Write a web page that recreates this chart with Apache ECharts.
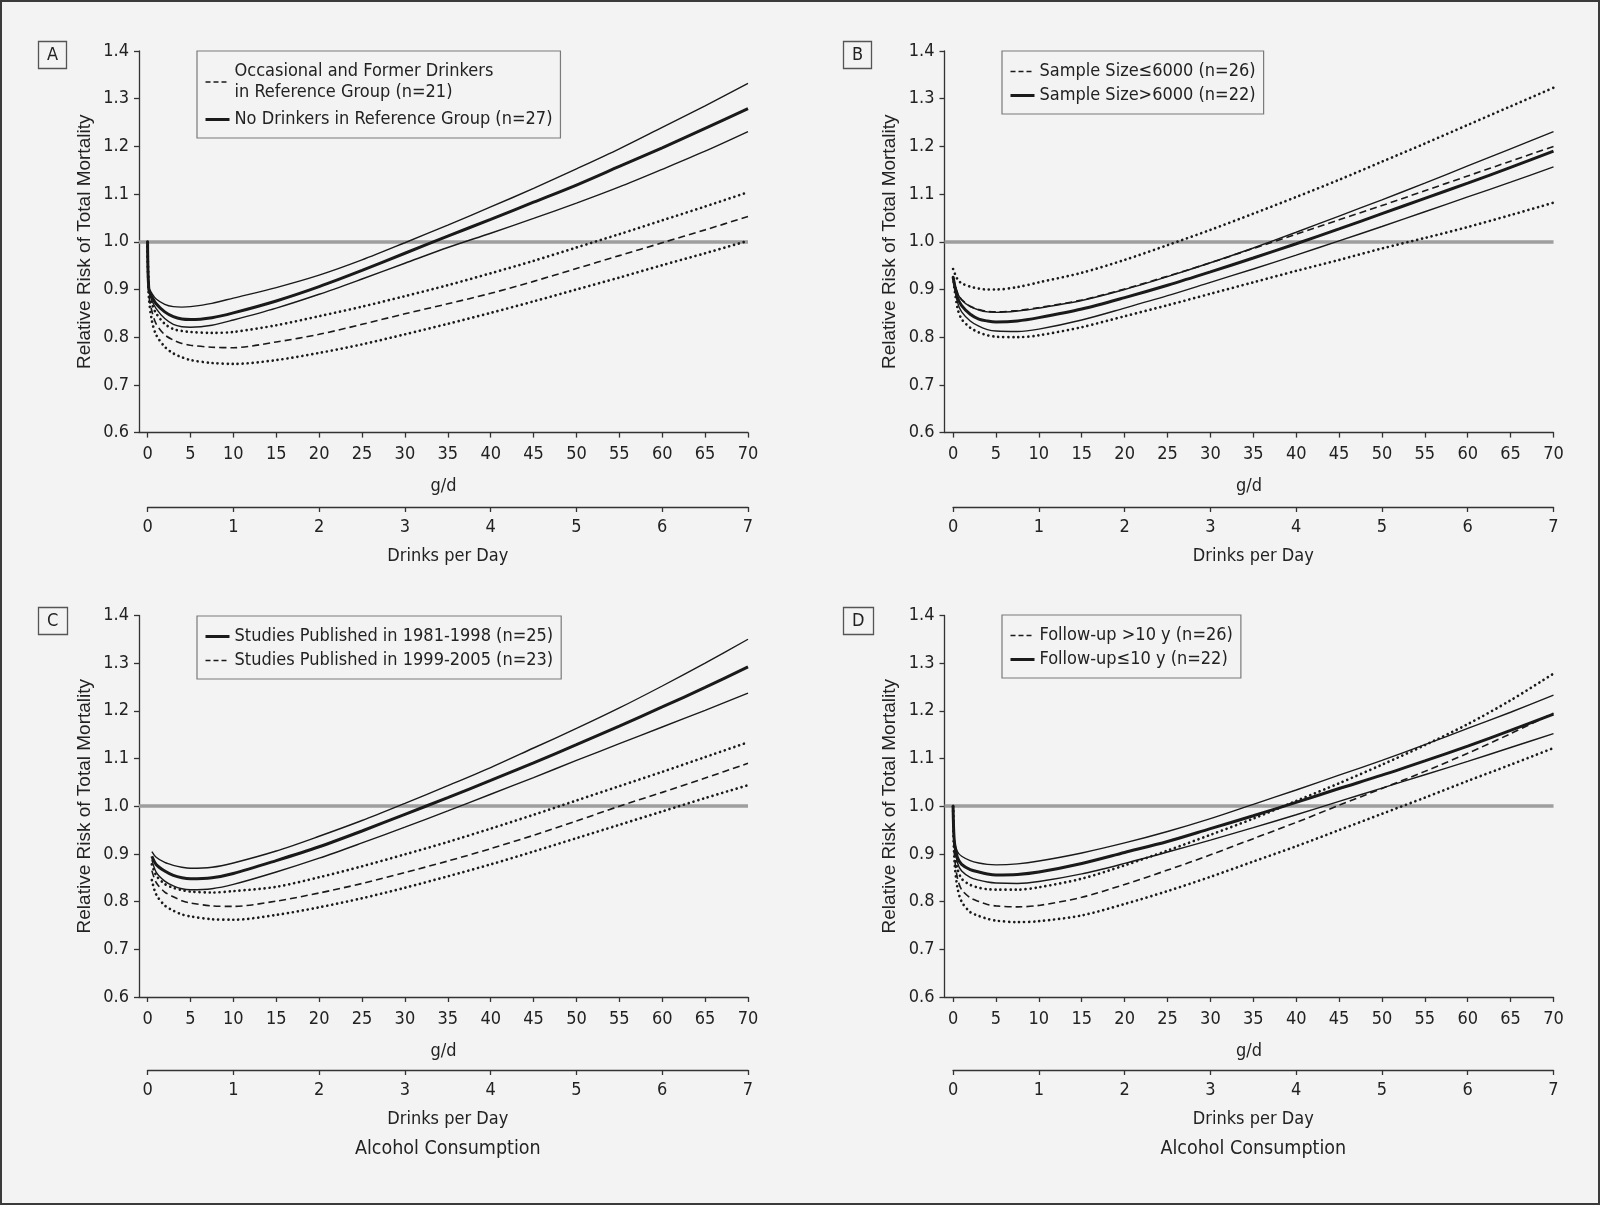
<!DOCTYPE html>
<html>
<head>
<meta charset="utf-8">
<script src="https://cdn.jsdelivr.net/npm/echarts@6/dist/echarts.min.js"></script>
<style>
html,body{margin:0;padding:0;background:#f3f3f3;}
#chart{width:1600px;height:1205px;}
</style>
</head>
<body>
<div id="chart"></div>
<script>
// ---------- DATA ----------
const gdTicks = [0,5,10,15,20,25,30,35,40,45,50,55,60,65,70];
const drinkTicks = [0,1,2,3,4,5,6,7];

const xA = [0,0.15,0.5,1,2,3,4,5,7.5,10,15,20,25,30,35,40,45,50,55,60,65,70];
const xB = [0,0.5,1,2,3,4,5,7.5,10,15,20,25,30,35,40,45,50,55,60,65,70];
const xC = [0.5,1,2,3,4,5,7.5,10,15,20,25,30,35,40,45,50,55,60,65,70];
const xD = [0,0.15,0.5,1,2,3,4,5,7.5,10,15,20,25,30,35,40,45,50,55,60,65,70];

// Panel A
const A_noUpper  = [1.0,0.905,0.892,0.880,0.869,0.864,0.863,0.864,0.871,0.882,0.904,0.930,0.962,0.998,1.035,1.073,1.112,1.153,1.195,1.240,1.285,1.332];
const A_no       = [1.0,0.900,0.885,0.870,0.853,0.843,0.838,0.837,0.841,0.851,0.876,0.906,0.940,0.976,1.012,1.047,1.083,1.119,1.158,1.197,1.238,1.279];
const A_noLower  = [1.0,0.897,0.877,0.860,0.839,0.827,0.822,0.821,0.825,0.836,0.861,0.890,0.922,0.955,0.988,1.018,1.049,1.081,1.115,1.152,1.190,1.231];
const A_occUpper = [1.0,0.895,0.870,0.850,0.828,0.817,0.813,0.811,0.809,0.811,0.825,0.844,0.864,0.886,0.909,0.934,0.960,0.988,1.016,1.045,1.074,1.104];
const A_occ      = [1.0,0.890,0.855,0.828,0.805,0.794,0.787,0.783,0.779,0.778,0.790,0.806,0.827,0.849,0.870,0.892,0.917,0.944,0.971,0.998,1.025,1.053];
const A_occLower = [1.0,0.885,0.835,0.805,0.780,0.766,0.758,0.752,0.746,0.744,0.752,0.767,0.785,0.806,0.828,0.851,0.875,0.900,0.925,0.951,0.976,1.002];

// Panel B
const B_gtUpper = [0.926,0.893,0.878,0.864,0.857,0.853,0.852,0.855,0.861,0.877,0.900,0.927,0.956,0.987,1.020,1.054,1.088,1.123,1.159,1.195,1.231];
const B_gt      = [0.926,0.884,0.866,0.848,0.838,0.834,0.832,0.834,0.841,0.859,0.883,0.909,0.937,0.966,0.996,1.027,1.059,1.091,1.123,1.156,1.190];
const B_gtLower = [0.926,0.874,0.853,0.834,0.823,0.816,0.813,0.812,0.817,0.836,0.861,0.887,0.915,0.943,0.972,1.002,1.032,1.063,1.094,1.125,1.157];
const B_leUpper = [0.943,0.922,0.913,0.906,0.902,0.900,0.900,0.905,0.915,0.935,0.962,0.993,1.025,1.059,1.094,1.130,1.168,1.206,1.245,1.284,1.323];
const B_le      = [0.927,0.894,0.879,0.865,0.858,0.854,0.853,0.856,0.862,0.878,0.901,0.928,0.956,0.986,1.016,1.046,1.076,1.107,1.138,1.169,1.200];
const B_leLower = [0.926,0.862,0.838,0.820,0.810,0.804,0.801,0.800,0.804,0.821,0.844,0.867,0.891,0.915,0.939,0.962,0.986,1.008,1.031,1.056,1.082];

// Panel C
const C_earlyUpper = [0.905,0.893,0.882,0.876,0.872,0.870,0.872,0.881,0.906,0.937,0.970,1.006,1.043,1.081,1.122,1.163,1.206,1.252,1.300,1.350];
const C_early      = [0.895,0.878,0.864,0.855,0.850,0.848,0.850,0.859,0.886,0.915,0.948,0.983,1.018,1.054,1.091,1.129,1.168,1.208,1.249,1.292];
const C_earlyLower = [0.888,0.862,0.843,0.833,0.827,0.825,0.827,0.836,0.862,0.891,0.923,0.956,0.990,1.025,1.060,1.096,1.131,1.166,1.201,1.237];
const C_lateUpper  = [0.878,0.855,0.837,0.829,0.824,0.821,0.819,0.822,0.831,0.851,0.874,0.899,0.925,0.953,0.982,1.012,1.042,1.072,1.103,1.134];
const C_late       = [0.865,0.840,0.820,0.810,0.802,0.797,0.791,0.790,0.801,0.818,0.838,0.861,0.885,0.911,0.939,0.969,1.000,1.029,1.059,1.090];
const C_lateLower  = [0.845,0.815,0.792,0.781,0.773,0.769,0.763,0.762,0.772,0.788,0.807,0.829,0.853,0.878,0.905,0.933,0.961,0.989,1.017,1.044];

// Panel D
const D_leUpper = [1.0,0.930,0.905,0.895,0.886,0.881,0.878,0.877,0.879,0.885,0.902,0.923,0.947,0.974,1.004,1.034,1.065,1.096,1.129,1.163,1.197,1.233];
const D_le      = [1.0,0.925,0.893,0.878,0.867,0.862,0.858,0.856,0.857,0.862,0.880,0.903,0.926,0.953,0.980,1.008,1.037,1.065,1.095,1.126,1.159,1.193];
const D_leLower = [1.0,0.920,0.882,0.864,0.851,0.845,0.841,0.839,0.838,0.842,0.858,0.880,0.904,0.929,0.955,0.982,1.010,1.038,1.066,1.094,1.123,1.152];
const D_gtUpper = [1.0,0.910,0.870,0.848,0.835,0.829,0.826,0.825,0.825,0.830,0.848,0.876,0.907,0.940,0.974,1.011,1.048,1.087,1.128,1.172,1.222,1.278];
const D_gt      = [1.0,0.900,0.850,0.825,0.808,0.800,0.794,0.791,0.789,0.792,0.809,0.836,0.866,0.898,0.932,0.966,1.002,1.037,1.073,1.111,1.152,1.195];
const D_gtLower = [1.0,0.890,0.830,0.800,0.778,0.770,0.764,0.760,0.757,0.759,0.771,0.795,0.822,0.852,0.884,0.916,0.950,0.984,1.018,1.053,1.087,1.122];

// Legend labels
const legA = ['Occasional and Former Drinkers\nin Reference Group (n=21)', 'No Drinkers in Reference Group (n=27)'];
const legB = ['Sample Size\u22646000 (n=26)', 'Sample Size>6000 (n=22)'];
const legC = ['Studies Published in 1981-1998 (n=25)', 'Studies Published in 1999-2005 (n=23)'];
const legD = ['Follow-up >10 y (n=26)', 'Follow-up\u226410 y (n=22)'];

// ---------- STYLE ----------
const NARROW = "'DejaVu Sans Condensed','Liberation Sans Narrow',sans-serif";
const REG = "'Liberation Sans',Arial,sans-serif";
const INK = '#1a1a1a';
const AX = '#333';
const ST = {
  thick:  {color:INK, width:3, type:'solid'},
  thin:   {color:INK, width:1.4, type:'solid'},
  dash:   {color:INK, width:1.6, type:[7,4]},
  dot:    {color:INK, width:2.7, type:[0.01,5], cap:'round'}
};

const panels = [
  {letter:'A', left:139, top:51, drinksTop:507, xs:xA, legend:legA, legendPos:{left:197, top:51}, itemGap:6,
   curves:[
     {name:'A_ou', d:A_occUpper, s:'dot'}, {name:legA[0], d:A_occ, s:'dash'}, {name:'A_ol', d:A_occLower, s:'dot'},
     {name:'A_nu', d:A_noUpper, s:'thin'}, {name:legA[1], d:A_no, s:'thick'}, {name:'A_nl', d:A_noLower, s:'thin'}]},
  {letter:'B', left:944.5, top:51, drinksTop:507, xs:xB, legend:legB, legendPos:{left:1002, top:51}, itemGap:3,
   curves:[
     {name:'B_lu', d:B_leUpper, s:'dot'}, {name:legB[0], d:B_le, s:'dash'}, {name:'B_ll', d:B_leLower, s:'dot'},
     {name:'B_gu', d:B_gtUpper, s:'thin'}, {name:legB[1], d:B_gt, s:'thick'}, {name:'B_gl', d:B_gtLower, s:'thin'}]},
  {letter:'C', left:139, top:615.4, drinksTop:1070, xs:xC, legend:legC, legendPos:{left:197, top:616}, itemGap:3,
   curves:[
     {name:'C_lu', d:C_lateUpper, s:'dot'}, {name:legC[1], d:C_late, s:'dash'}, {name:'C_ll', d:C_lateLower, s:'dot'},
     {name:'C_eu', d:C_earlyUpper, s:'thin'}, {name:legC[0], d:C_early, s:'thick'}, {name:'C_el', d:C_earlyLower, s:'thin'}]},
  {letter:'D', left:944.5, top:615.4, drinksTop:1070, xs:xD, legend:legD, legendPos:{left:1002, top:615}, itemGap:3,
   curves:[
     {name:'D_gu', d:D_gtUpper, s:'dot'}, {name:legD[0], d:D_gt, s:'dash'}, {name:'D_gl', d:D_gtLower, s:'dot'},
     {name:'D_lu', d:D_leUpper, s:'thin'}, {name:legD[1], d:D_le, s:'thick'}, {name:'D_ll', d:D_leLower, s:'thin'}]}
];

const W = 609, H = 381.6;
const grid = [], xAxis = [], yAxis = [], series = [], legend = [], title = [];
const graphic = [];
const styleOf = {};

panels.forEach((p, i) => {
  const gi = 2*i, di = 2*i+1;
  grid.push({left:p.left, top:p.top, width:W, height:H});
  grid.push({left:p.left + W/71, top:p.drinksTop-1, width:W*70/71, height:1});
  xAxis.push({
    gridIndex:gi, type:'value', min:-1, max:70,
    axisLine:{onZero:false, lineStyle:{color:AX, width:1.3}},
    axisTick:{show:true, customValues:gdTicks, length:5, lineStyle:{color:AX, width:1.3}},
    axisLabel:{customValues:gdTicks, margin:13, fontSize:18, fontFamily:NARROW, color:'#222'},
    splitLine:{show:false},
    name:'g/d', nameLocation:'middle', nameGap:45,
    nameTextStyle:{fontSize:18, fontFamily:NARROW, color:'#222'}
  });
  xAxis.push({
    gridIndex:di, type:'value', min:0, max:7, interval:1,
    axisLine:{onZero:false, lineStyle:{color:AX, width:1.3}},
    axisTick:{show:true, length:5, lineStyle:{color:AX, width:1.3}},
    axisLabel:{margin:11, fontSize:18, fontFamily:NARROW, color:'#222'},
    splitLine:{show:false},
    name:'Drinks per Day', nameLocation:'middle', nameGap:40,
    nameTextStyle:{fontSize:18, fontFamily:NARROW, color:'#222'}
  });
  yAxis.push({
    gridIndex:gi, type:'value', min:0.6, max:1.4, interval:0.1,
    axisLine:{show:true, onZero:false, lineStyle:{color:AX, width:1.3}},
    axisTick:{show:true, length:5, lineStyle:{color:AX, width:1.3}},
    axisLabel:{margin:10, fontSize:18, fontFamily:NARROW, color:'#222', formatter:v=>v.toFixed(1)},
    splitLine:{show:false},
    name:'Relative Risk of Total Mortality', nameLocation:'middle', nameGap:45,
    nameTextStyle:{fontSize:19, fontFamily:REG, color:'#222'}
  });
  yAxis.push({gridIndex:di, type:'value', min:0, max:1, show:false});

  p.curves.forEach((c, k) => {
    styleOf[c.name] = c.s;
    const s = {
      type:'line', name:c.name, xAxisIndex:gi, yAxisIndex:gi,
      data:p.xs.map((x, j) => [x, c.d[j]]),
      symbol:'none', smooth:0.3, silent:true, color:INK,
      itemStyle:{color:INK},
      lineStyle:Object.assign({}, ST[c.s]), z:10
    };
    if (k === 0) {
      s.markLine = {
        silent:true, symbol:['none','none'], z:1,
        label:{show:false},
        lineStyle:{color:'#9e9e9e', width:3.5, type:'solid'},
        data:[{yAxis:1}]
      };
    }
    series.push(s);
  });

  legend.push({
    data:p.legend.map(n => {
      const thick = styleOf[n] === 'thick';
      return {name:n, lineStyle: thick ? {width:3} : {width:1.5, type:[5,3]}};
    }),
    orient:'vertical', left:p.legendPos.left, top:p.legendPos.top,
    padding:[10,8,8,7], itemGap:p.itemGap, itemWidth:24, itemHeight:12,
    itemStyle:{opacity:0},
    borderColor:'#7a7a7a', borderWidth:1.2, selectedMode:false,
    textStyle:{fontSize:18, fontFamily:NARROW, color:'#222', lineHeight:21}
  });

  const isBottom = p.top > 300;
  title.push({
    text:p.letter, left:(p.left < 500 ? 38 : 843), top:(isBottom ? 607 : 41),
    padding:[4,9,3,9], borderColor:'#555', borderWidth:1.3,
    textStyle:{fontSize:18, fontWeight:'normal', fontFamily:NARROW, color:'#222', lineHeight:21}
  });

  if (isBottom) {
    graphic.push({
      type:'text', x:p.left + W/71 + W*35/71, y:1149,
      style:{text:'Alcohol Consumption', fontSize:19.5, fontFamily:NARROW, fill:'#222', textAlign:'center', textVerticalAlign:'middle'}
    });
  }
});

graphic.push({type:'rect', shape:{x:1, y:1, width:1598, height:1203}, style:{fill:'none', stroke:'#3a3a3a', lineWidth:2}, z:100});

const chart = echarts.init(document.getElementById('chart'), null, {renderer:'canvas'});
chart.setOption({
  backgroundColor:'#f3f3f3',
  animation:false,
  title, grid, xAxis, yAxis, legend, series, graphic
});
</script>
</body>
</html>
